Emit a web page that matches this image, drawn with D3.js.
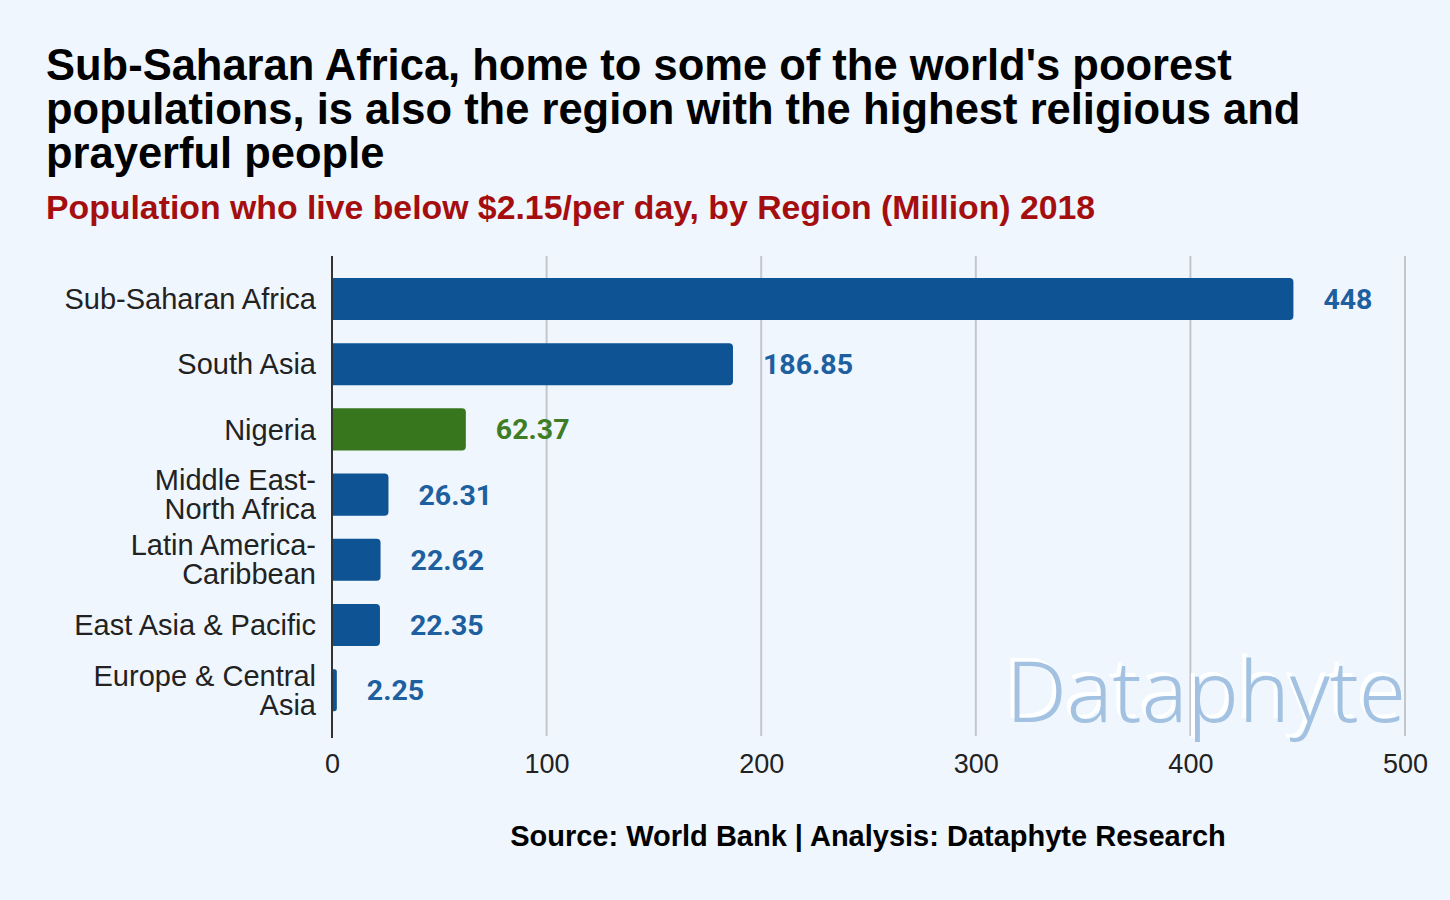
<!DOCTYPE html>
<html>
<head>
<meta charset="utf-8">
<script src="https://cdn.jsdelivr.net/npm/d3@7"></script>
<style>
  html, body { margin: 0; padding: 0; background: #eff6fe; }
  svg { display: block; }
</style>
</head>
<body>
<div id="chart"></div>
<script>
// data
const regions = [
  "Sub-Saharan Africa",
  "South Asia",
  "Nigeria",
  "Middle East-\nNorth Africa",
  "Latin America-\nCaribbean",
  "East Asia & Pacific",
  "Europe & Central\nAsia"
];
const values = [448, 186.85, 62.37, 26.31, 22.62, 22.35, 2.25];
const valueLabels = ["448", "186.85", "62.37", "26.31", "22.62", "22.35", "2.25"];
const highlight = ["Nigeria"];
const xTicks = [0, 100, 200, 300, 400, 500];

const titleLines = [
  "Sub-Saharan Africa, home to some of the world's poorest",
  "populations, is also the region with the highest religious and",
  "prayerful people"
];
const subtitle = "Population who live below $2.15/per day, by Region (Million) 2018";
const source = "Source: World Bank | Analysis: Dataphyte Research";

const width = 1450, height = 900;
const plot = { left: 332, right: 1405, top: 256, bottom: 736 };

const blue = "#0e5394", blueText = "#1d5f9f";
const green = "#38761d", greenText = "#3f7d24";
const arial = "'Liberation Sans', Arial, sans-serif";

const svg = d3.select("#chart").append("svg")
  .attr("width", width).attr("height", height);

svg.append("rect").attr("width", width).attr("height", height).attr("fill", "#eff6fe");

const defs = svg.append("defs");
defs.append("filter").attr("id", "wmShadow")
  .attr("x", "-10%").attr("y", "-20%").attr("width", "120%").attr("height", "140%")
  .append("feDropShadow")
  .attr("dx", -4).attr("dy", -4).attr("stdDeviation", 0.5)
  .attr("flood-color", "#ffffff").attr("flood-opacity", 0.95);

// titles
svg.append("text")
  .attr("x", 46).attr("y", 80)
  .style("font-family", arial)
  .style("font-weight", "bold").style("font-size", "43.5px").attr("fill", "#000")
  .selectAll("tspan").data(titleLines).enter().append("tspan")
  .attr("x", 46).attr("dy", (d, i) => i === 0 ? 0 : 44)
  .text(d => d);

svg.append("text")
  .attr("x", 46).attr("y", 219)
  .style("font-family", arial)
  .style("font-weight", "bold").style("font-size", "33.8px").attr("fill", "#a50e0e")
  .text(subtitle);

// scales
const x = d3.scaleLinear().domain([0, 500]).range([plot.left, plot.right]);
const y = d3.scaleBand().domain(regions).range([266.4, 722.8])
  .paddingInner(0.355).paddingOuter(0.1775);

// gridlines
svg.append("g").selectAll("line").data(xTicks.filter(d => d > 0)).enter().append("line")
  .attr("x1", d => x(d)).attr("x2", d => x(d))
  .attr("y1", plot.top).attr("y2", plot.bottom)
  .attr("stroke", "#c3c7cc").attr("stroke-width", 2);

// watermark
svg.append("text").attr("x", 1006).attr("y", 722).attr("textLength", 400)
  .attr("lengthAdjust", "spacingAndGlyphs")
  .style("font-family", "'Noto Sans', sans-serif").style("font-size", "84px")
  .style("font-weight", "300")
  .attr("fill", "#a3c2e1").attr("filter", "url(#wmShadow)")
  .text("Dataphyte");

// bars (rounded right end)
const r = 4;
svg.append("g").selectAll("path").data(regions).enter().append("path")
  .attr("d", (d, i) => {
    const x0 = x(0), x1 = x(values[i]), y0 = y(d), h = y.bandwidth();
    const rr = Math.min(r, (x1 - x0) / 2);
    return `M${x0},${y0}H${x1 - rr}Q${x1},${y0} ${x1},${y0 + rr}V${y0 + h - rr}Q${x1},${y0 + h} ${x1 - rr},${y0 + h}H${x0}Z`;
  })
  .attr("fill", d => highlight.includes(d) ? green : blue);

// value labels
svg.append("g").selectAll("text").data(regions).enter().append("text")
  .attr("x", (d, i) => x(values[i]) + 30)
  .attr("y", d => y(d) + y.bandwidth() / 2)
  .attr("dy", "0.35em")
  .style("font-family", "Roboto, sans-serif").style("font-weight", "bold")
  .style("font-size", "28.5px")
  .attr("fill", d => highlight.includes(d) ? greenText : blueText)
  .text((d, i) => valueLabels[i]);

// y axis
const yAxis = svg.append("g").attr("transform", `translate(${plot.left},0)`)
  .call(d3.axisLeft(y).tickSize(0).tickPadding(16).tickFormat(""));
yAxis.select(".domain").attr("stroke", "#333").attr("stroke-width", 2)
  .attr("d", `M0,${plot.top}V${plot.bottom + 2}`);
yAxis.selectAll(".tick").each(function (d) {
  const lines = d.split("\n");
  const t = d3.select(this).append("text")
    .attr("x", -16).attr("text-anchor", "end")
    .style("font-family", arial).style("font-size", "29px")
    .attr("fill", "#222");
  lines.forEach((ln, k) => {
    t.append("tspan").attr("x", -16)
      .attr("y", (k - (lines.length - 1) / 2) * 29)
      .attr("dy", "0.35em").text(ln);
  });
});

// x axis
const xAxis = svg.append("g").attr("transform", `translate(0,${plot.bottom})`)
  .call(d3.axisBottom(x).tickValues(xTicks).tickSize(0).tickPadding(18));
xAxis.select(".domain").remove();
xAxis.selectAll("text")
  .style("font-family", arial).style("font-size", "27px")
  .attr("fill", "#222");

// source
svg.append("text")
  .attr("x", 868).attr("y", 846).attr("text-anchor", "middle")
  .style("font-family", arial)
  .style("font-weight", "bold").style("font-size", "29px").attr("fill", "#000")
  .text(source);
</script>
</body>
</html>
